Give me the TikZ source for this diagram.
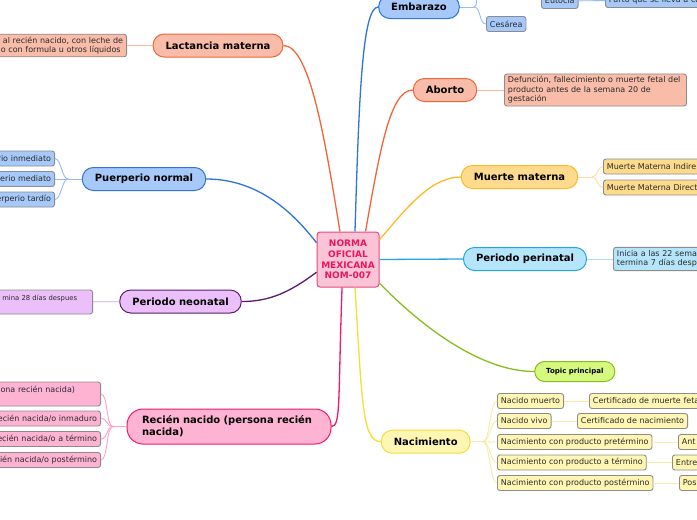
\documentclass[tikz,border=0pt]{standalone}
\usepackage{fontspec}
\setmainfont{DejaVu Sans}
\usepackage{xcolor}
\usepackage{tikz}
\definecolor{nomfill}{HTML}{FAC4D6}
\definecolor{nomline}{HTML}{E8487E}
\definecolor{nomtext}{HTML}{E8175D}
\definecolor{bluefill}{HTML}{A6C9F9}
\definecolor{blueline}{HTML}{2F74D6}
\definecolor{bluetwig}{HTML}{92BCF2}
\definecolor{salmonfill}{HTML}{F9BCA8}
\definecolor{salmonline}{HTML}{F3643A}
\definecolor{salmontwig}{HTML}{F9B8A2}
\definecolor{goldfill}{HTML}{FEDB8C}
\definecolor{goldline}{HTML}{FDB92A}
\definecolor{goldtwig}{HTML}{FEDFA0}
\definecolor{skyfill}{HTML}{B5E5FB}
\definecolor{skyline}{HTML}{22A4E6}
\definecolor{skytwig}{HTML}{ACDDF6}
\definecolor{lilacfill}{HTML}{EBBFF9}
\definecolor{lilacline}{HTML}{5C1A6E}
\definecolor{lilactwig}{HTML}{CFA6DA}
\definecolor{limefill}{HTML}{D5F87F}
\definecolor{limeline}{HTML}{88BC1E}
\definecolor{pinkfill}{HTML}{FFB3D3}
\definecolor{pinkline}{HTML}{F2166E}
\definecolor{pinktwig}{HTML}{FFA0C8}
\definecolor{lemonfill}{HTML}{FFF6B3}
\definecolor{lemonline}{HTML}{F3DE3A}
\definecolor{lemontwig}{HTML}{F8EDA6}
\definecolor{leafline}{HTML}{8C8C8C}
\definecolor{inkgray}{HTML}{2A2A2A}

\tikzset{
  topic/.style={rounded corners=11pt, line width=1pt, inner xsep=12.5pt, inner ysep=0pt,
    minimum height=23pt, font=\bfseries\fontsize{10}{12}\selectfont},
  leaf/.style={rounded corners=2.5pt, draw=leafline, line width=0.9pt, inner xsep=3.5pt,
    inner ysep=2pt, minimum height=15pt, text=inkgray, font=\fontsize{8}{9.5}\selectfont},
  openleaf/.style={leaf, text width=#1, align=left},
  backleaf/.style={leaf, text width=#1, align=right},
  link/.style={line width=1.3pt},
  twig/.style={line width=0.9pt},
}

\begin{document}
\begin{tikzpicture}[x=1pt, y=-1pt]
  \fill[white] (0,0) rectangle (697,520);
  \useasboundingbox (0,0) rectangle (697,520);
  \clip (0,0) rectangle (697,520);

  % Central topic
  \node[rounded corners=3pt, fill=nomfill, draw=nomline, line width=1pt, minimum width=62pt,
    minimum height=55pt, align=center, text=nomtext, inner sep=0pt,
    font=\bfseries\fontsize{9}{10.7}\selectfont] (nom) at (348,259.5)
    {NORMA\\OFICIAL\\MEXICANA\\NOM-007};

  % Main topics
  \node[topic, fill=bluefill, draw=blueline] (emb) at (419,7) {Embarazo};
  \node[topic, fill=salmonfill, draw=salmonline] (lact) at (218,45.5) {Lactancia materna};
  \node[topic, fill=salmonfill, draw=salmonline] (abo) at (445,90) {Aborto};
  \node[topic, fill=goldfill, draw=goldline] (mmat) at (519.5,177) {Muerte materna};
  \node[topic, fill=bluefill, draw=blueline] (puer) at (144,179) {Puerperio normal};
  \node[topic, fill=skyfill, draw=skyline] (peri) at (525,259) {Periodo perinatal};
  \node[topic, fill=lilacfill, draw=lilacline] (neo) at (180.5,301.5) {Periodo neonatal};
  \node[topic, fill=limefill, draw=limeline, rounded corners=10pt, minimum height=20pt,
    inner xsep=11.5pt, font=\bfseries\fontsize{7}{8}\selectfont] (tp) at (574.8,371.5) {Topic principal};
  \node[topic, fill=pinkfill, draw=pinkline, rounded corners=16pt, minimum height=35pt,
    inner xsep=15pt, text width=174pt, align=left] (rn) at (229,426.5)
    {Recién nacido (persona recién\\nacida)};
  \node[topic, fill=lemonfill, draw=lemonline] (nac) at (425.7,441.7) {Nacimiento};

  % Branches from the centre
  \draw[link, salmonline] (nom.106) .. controls (325,140) and (310,45.5) .. (lact.east);
  \draw[link, blueline] (nom.76) .. controls (359,100) and (362,7) .. (emb.west);
  \draw[link, salmonline] (nom.58) .. controls (380,150) and (390,90) .. (abo.west);
  \draw[link, goldline] (nom.32) .. controls (405,210) and (430,177) .. (mmat.west);
  \draw[link, skyline] (nom.east) -- (peri.west);
  \draw[link, limeline] (nom.323) .. controls (420,325) and (480,371.5) .. (tp.west);
  \draw[link, lemonline] (nom.284) .. controls (362,400) and (362,441.7) .. (nac.west);
  \draw[link, pinkline] (nom.258) .. controls (338,400) and (341,426.5) .. (rn.east);
  \draw[link, lilacline] (nom.202) .. controls (290,292) and (270,301.5) .. (neo.east);
  \draw[link, blueline] (nom.152) .. controls (295,215) and (260,179) .. (puer.east);

  % Embarazo
  \node[leaf, fill=bluefill] (eut) at (541,1) [anchor=west] {Eutocia};
  \node[openleaf=120pt, fill=bluefill] (parto) at (605,0) [anchor=west] {Parto que se lleva a cab};
  \node[leaf, fill=bluefill] (ces) at (486,24) [anchor=west] {Cesárea};
  \coordinate (embfork) at (474,7);
  \coordinate (embup) at (476,-12);
  \draw[twig, bluetwig] (emb.east) -- (embfork);
  \draw[twig, bluetwig] (embfork) .. controls +(4,0) and +(0,8) .. (embup);
  \draw[twig, bluetwig] (embfork) .. controls +(7,0) and +(-7,0) .. (ces.west);
  \draw[twig, bluetwig] (eut) -- (parto);

  % Lactancia materna
  \node[backleaf=140pt, fill=salmonfill, inner ysep=2.5pt] (lactx) at (127,45.5) [anchor=east]
    {al recién nacido, con leche de\\o con formula u otros líquidos\rule{2.5pt}{0pt}};
  \draw[twig, salmontwig] (lact) -- (lactx);

  % Aborto
  \node[openleaf=175pt, fill=salmonfill, inner ysep=2.5pt] (abox) at (504,90) [anchor=west]
    {Defunción, fallecimiento o muerte fetal del\\producto antes de la semana 20 de\\gestación};
  \draw[twig, salmontwig] (abo) -- (abox);

  % Muerte materna
  \node[openleaf=100pt, fill=goldfill] (mmind) at (603,166.5) [anchor=west] {Muerte Materna Indire};
  \node[openleaf=100pt, fill=goldfill] (mmdir) at (603,187.5) [anchor=west] {Muerte Materna Direct};
  \coordinate (mmfork) at (592,177);
  \draw[twig, goldtwig] (mmat.east) -- (mmfork);
  \draw[twig, goldtwig] (mmfork) .. controls +(6,0) and +(-6,0) .. (mmind.west);
  \draw[twig, goldtwig] (mmfork) .. controls +(6,0) and +(-6,0) .. (mmdir.west);

  % Periodo perinatal
  \node[openleaf=100pt, fill=skyfill, inner ysep=3pt] (perix) at (613,259) [anchor=west]
    {Inicia a las 22 sema\\termina 7 días desp};
  \draw[twig, skytwig] (peri) -- (perix);

  % Puerperio normal
  \node[backleaf=80pt, fill=bluefill] (pinm) at (55,158.5) [anchor=east] {rio inmediato};
  \node[backleaf=80pt, fill=bluefill] (pmed) at (55,179) [anchor=east] {perio mediato};
  \node[backleaf=80pt, fill=bluefill] (ptar) at (55,199.5) [anchor=east] {erperio tardío};
  \coordinate (puerfork) at (68,179);
  \draw[twig, bluetwig] (puer.west) -- (puerfork);
  \draw[twig, bluetwig] (puerfork) .. controls +(-6,0) and +(6,0) .. (pinm.east);
  \draw[twig, bluetwig] (puerfork) -- (pmed.east);
  \draw[twig, bluetwig] (puerfork) .. controls +(-6,0) and +(6,0) .. (ptar.east);

  % Periodo neonatal
  \node[backleaf=110pt, fill=lilacfill, minimum height=24pt, font=\fontsize{6.8}{8.5}\selectfont]
    (neox) at (93,302) [anchor=east] {mina 28 días despues\rule{12pt}{0pt}\\\mbox{}};
  \draw[twig, lilactwig] (neo) -- (neox);

  % Recien nacido
  \node[backleaf=110pt, fill=pinkfill, minimum height=24pt] (rn1) at (101,394) [anchor=east]
    {sona recién nacida)\rule{22pt}{0pt}\\\mbox{}};
  \node[backleaf=110pt, fill=pinkfill] (rn2) at (101,418.5) [anchor=east] {ecién nacida/o inmaduro};
  \node[backleaf=110pt, fill=pinkfill] (rn3) at (101,439) [anchor=east] {ecién nacida/o a término};
  \node[backleaf=110pt, fill=pinkfill] (rn4) at (101,460) [anchor=east] {ién nacida/o postérmino};
  \coordinate (rnfork) at (113,426.5);
  \draw[twig, pinktwig] (rn.west) -- (rnfork);
  \draw[twig, pinktwig] (rnfork) .. controls +(-7,0) and +(7,0) .. (rn1.east);
  \draw[twig, pinktwig] (rnfork) .. controls +(-7,0) and +(7,0) .. (rn2.east);
  \draw[twig, pinktwig] (rnfork) .. controls +(-7,0) and +(7,0) .. (rn3.east);
  \draw[twig, pinktwig] (rnfork) .. controls +(-7,0) and +(7,0) .. (rn4.east);

  % Nacimiento
  \node[leaf, fill=lemonfill] (nmu) at (497,401) [anchor=west] {Nacido muerto};
  \node[leaf, fill=lemonfill] (nvi) at (497,421) [anchor=west] {Nacido vivo};
  \node[leaf, fill=lemonfill] (npre) at (497,442) [anchor=west] {Nacimiento con producto pretérmino};
  \node[leaf, fill=lemonfill] (nter) at (497,462.5) [anchor=west] {Nacimiento con producto a término};
  \node[leaf, fill=lemonfill] (npos) at (497,483) [anchor=west] {Nacimiento con producto postérmino};
  \node[openleaf=120pt, fill=lemonfill] (cmf) at (589,401) [anchor=west] {Certificado de muerte feta};
  \node[leaf, fill=lemonfill] (cnac) at (577,421) [anchor=west] {Certificado de nacimiento};
  \node[openleaf=40pt, fill=lemonfill] (ant) at (678,442) [anchor=west] {Ant};
  \node[openleaf=40pt, fill=lemonfill] (entre) at (672,462.5) [anchor=west] {Entre};
  \node[openleaf=40pt, fill=lemonfill] (post) at (679,483) [anchor=west] {Pos};
  \coordinate (nacfork) at (483,441.7);
  \draw[twig, lemontwig] (nac.east) -- (nacfork);
  \draw[twig, lemontwig] (nacfork) .. controls +(7,0) and +(-7,0) .. (nmu.west);
  \draw[twig, lemontwig] (nacfork) .. controls +(7,0) and +(-7,0) .. (nvi.west);
  \draw[twig, lemontwig] (nacfork) -- (npre.west);
  \draw[twig, lemontwig] (nacfork) .. controls +(7,0) and +(-7,0) .. (nter.west);
  \draw[twig, lemontwig] (nacfork) .. controls +(7,0) and +(-7,0) .. (npos.west);
  \draw[twig, lemontwig] (nmu) -- (cmf);
  \draw[twig, lemontwig] (nvi) -- (cnac);
  \draw[twig, lemontwig] (npre) -- (ant);
  \draw[twig, lemontwig] (nter) -- (entre);
  \draw[twig, lemontwig] (npos) -- (post);
\end{tikzpicture}
\end{document}
